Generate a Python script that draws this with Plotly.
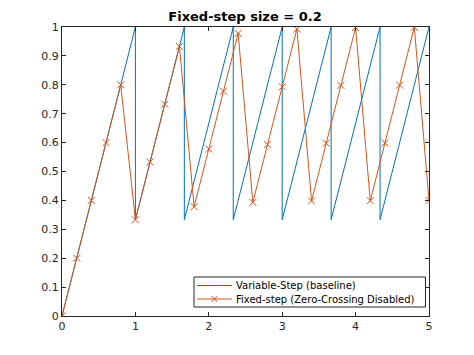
import plotly.graph_objects as go

# Variable-step baseline (sawtooth vertices)
var_t = [0, 1, 1, 1.6667, 1.6667, 2.3333, 2.3333, 3, 3, 3.6667, 3.6667, 4.3333, 4.3333, 5]
var_y = [0, 1, 0.3333, 1, 0.3333, 1, 0.3333, 1, 0.3333, 1, 0.3333, 1, 0.3333, 1]

# Fixed-step (step 0.2, zero-crossing disabled)
fix_t = [0, 0.2, 0.4, 0.6, 0.8, 1.0, 1.2, 1.4, 1.6, 1.8, 2.0, 2.2, 2.4, 2.6, 2.8, 3.0,
         3.2, 3.4, 3.6, 3.8, 4.0, 4.2, 4.4, 4.6, 4.8, 5.0]
fix_y = [0, 0.2, 0.4, 0.6, 0.8, 0.333, 0.533, 0.733, 0.933, 0.378, 0.578, 0.778, 0.978,
         0.393, 0.593, 0.793, 0.993, 0.398, 0.598, 0.798, 0.998, 0.399, 0.599, 0.799,
         0.999, 0.400]

x_ticks = [0, 1, 2, 3, 4, 5]
y_ticks = [0, 0.1, 0.2, 0.3, 0.4, 0.5, 0.6, 0.7, 0.8, 0.9, 1]
y_labels = ["0", "0.1", "0.2", "0.3", "0.4", "0.5", "0.6", "0.7", "0.8", "0.9", "1"]

series_names = ["Variable-Step (baseline)", "Fixed-step (Zero-Crossing Disabled)"]
series_colors = ["#0072BD", "#D95319"]

fig = go.Figure()
fig.add_trace(go.Scatter(x=var_t, y=var_y, mode="lines", name=series_names[0],
                         line=dict(color=series_colors[0], width=1)))
fig.add_trace(go.Scatter(x=fix_t, y=fix_y, mode="lines+markers", name=series_names[1],
                         line=dict(color=series_colors[1], width=1),
                         marker=dict(symbol="x-thin", size=7,
                                     line=dict(color=series_colors[1], width=1))))

axis_common = dict(showgrid=False, zeroline=False, showline=True, linecolor="#262626",
                   linewidth=1, mirror="ticks", ticks="inside", ticklen=4,
                   tickcolor="#262626", tickfont=dict(family="DejaVu Sans", size=11, color="#262626"))

# Compact MATLAB-style legend drawn with shapes + annotations (paper coords)
PW, PH = 367.0, 289.0  # plot area size in px
def px(x):
    return (x - 62) / PW
def py(y):
    return (316 - y) / PH

shapes = [dict(type="rect", xref="paper", yref="paper", x0=px(194), x1=px(425.5),
               y0=py(307), y1=py(277), line=dict(color="#262626", width=1),
               fillcolor="white", layer="above")]
annotations = []
rows_y = [285.5, 299]
for i, (nm, col) in enumerate(zip(series_names, series_colors)):
    ry = rows_y[i]
    shapes.append(dict(type="line", xref="paper", yref="paper", x0=px(197), x1=px(232),
                       y0=py(ry), y1=py(ry), line=dict(color=col, width=1), layer="above"))
    if i == 1:
        cx = 214.5
        shapes.append(dict(type="line", xref="paper", yref="paper", x0=px(cx - 3), x1=px(cx + 3),
                           y0=py(ry - 3), y1=py(ry + 3), line=dict(color=col, width=1), layer="above"))
        shapes.append(dict(type="line", xref="paper", yref="paper", x0=px(cx - 3), x1=px(cx + 3),
                           y0=py(ry + 3), y1=py(ry - 3), line=dict(color=col, width=1), layer="above"))
    annotations.append(dict(text=nm, xref="paper", yref="paper", x=px(234), y=py(ry),
                            xanchor="left", yanchor="middle", showarrow=False,
                            font=dict(family="DejaVu Sans", size=10, color="black")))

# page body adds an 8px offset; margins compensate for it
fig.update_layout(
    width=474, height=355,
    margin=dict(l=54, r=53, t=19, b=47),
    paper_bgcolor="white", plot_bgcolor="white",
    title=dict(text="<b>Fixed-step size = 0.2</b>", x=(245 - 8) / 474, xanchor="center",
               y=1 - 8 / 355, yanchor="middle",
               font=dict(family="DejaVu Sans", size=13, color="black")),
    xaxis=dict(range=[0, 5], tickvals=x_ticks, **axis_common),
    yaxis=dict(range=[0, 1], tickvals=y_ticks, ticktext=y_labels, **axis_common),
    shapes=shapes, annotations=annotations,
    showlegend=False,
)

fig.write_html("out.html")
